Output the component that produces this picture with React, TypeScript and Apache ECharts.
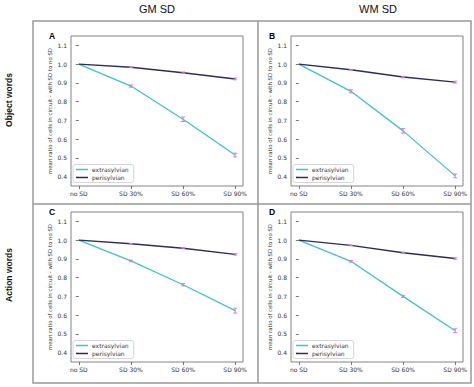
import React, { useEffect, useRef } from "react";
import * as echarts from "echarts";

const categories = ["no SD", "SD 30%", "SD 60%", "SD 90%"];
const yTicks = [0.4, 0.5, 0.6, 0.7, 0.8, 0.9, 1.0, 1.1];

// Panel A: GM SD, Object words
const aExtra = [1.0, 0.883, 0.706, 0.515];
const aExtraErr = [0, 0.006, 0.012, 0.01];
const aPeri = [1.0, 0.983, 0.954, 0.921];
const aPeriErr = [0, 0.002, 0.004, 0.005];
// Panel B: WM SD, Object words
const bExtra = [1.0, 0.855, 0.644, 0.404];
const bExtraErr = [0, 0.008, 0.012, 0.01];
const bPeri = [1.0, 0.97, 0.931, 0.904];
const bPeriErr = [0, 0.002, 0.004, 0.005];
// Panel C: GM SD, Action words
const cExtra = [1.0, 0.889, 0.762, 0.624];
const cExtraErr = [0, 0.004, 0.006, 0.013];
const cPeri = [1.0, 0.981, 0.957, 0.924];
const cPeriErr = [0, 0.002, 0.003, 0.004];
// Panel D: WM SD, Action words
const dExtra = [1.0, 0.887, 0.70, 0.517];
const dExtraErr = [0, 0.004, 0.006, 0.01];
const dPeri = [1.0, 0.972, 0.933, 0.902];
const dPeriErr = [0, 0.002, 0.003, 0.004];

const panels = [
  { letter: "A", extra: aExtra, extraErr: aExtraErr, peri: aPeri, periErr: aPeriErr, left: 71, top: 36 },
  { letter: "B", extra: bExtra, extraErr: bExtraErr, peri: bPeri, periErr: bPeriErr, left: 291, top: 36 },
  { letter: "C", extra: cExtra, extraErr: cExtraErr, peri: cPeri, periErr: cPeriErr, left: 71, top: 212 },
  { letter: "D", extra: dExtra, extraErr: dExtraErr, peri: dPeri, periErr: dPeriErr, left: 291, top: 212 },
];

const EXTRA_COLOR = "#3fc1d4";
const PERI_COLOR = "#2d2b5f";
const ERR_COLOR = "#dd77dd";
const PLOT_FONT = "DejaVu Sans";
const FIG_FONT = "Liberation Sans";

const GRID_W = 172;
const GRID_H = 150;

export default function App() {
  const ref = useRef<HTMLDivElement>(null);
  useEffect(() => {
    if (!ref.current) return;
    const chart = echarts.init(ref.current, null, { renderer: "svg" });

    const grid: any[] = [];
    const xAxis: any[] = [];
    const yAxis: any[] = [];
    const series: any[] = [];
    const legend: any[] = [];
    const graphic: any[] = [];

    const errRender = (params: any, api: any) => {
      const x = api.value(0);
      const lo = api.value(1);
      const hi = api.value(2);
      if (hi - lo <= 0) return null;
      const p1 = api.coord([x, hi]);
      const p2 = api.coord([x, lo]);
      const w = 2;
      const style = { stroke: ERR_COLOR, lineWidth: 1 };
      return {
        type: "group",
        children: [
          { type: "line", shape: { x1: p1[0], y1: p1[1], x2: p2[0], y2: p2[1] }, style },
          { type: "line", shape: { x1: p1[0] - w, y1: p1[1], x2: p1[0] + w, y2: p1[1] }, style },
          { type: "line", shape: { x1: p2[0] - w, y1: p2[1], x2: p2[0] + w, y2: p2[1] }, style },
        ],
      };
    };

    panels.forEach((p, i) => {
      grid.push({
        left: p.left,
        top: p.top,
        width: GRID_W,
        height: GRID_H,
        show: true,
        borderColor: "#777",
        borderWidth: 0.9,
        backgroundColor: "transparent",
      });
      xAxis.push({
        type: "value",
        gridIndex: i,
        min: -0.15,
        max: 3.15,
        axisLine: { show: false },
        splitLine: { show: false },
        axisTick: { show: true, length: 3, customValues: [0, 1, 2, 3], lineStyle: { color: "#555", width: 0.8 } },
        axisLabel: {
          customValues: [0, 1, 2, 3],
          formatter: (v: number) => categories[Math.round(v)],
          fontSize: 6,
          fontFamily: PLOT_FONT,
          color: "#333",
          margin: 4,
        },
      });
      yAxis.push({
        type: "value",
        gridIndex: i,
        min: 0.35,
        max: 1.15,
        axisLine: { show: false },
        splitLine: { show: false },
        axisTick: { show: true, length: 3, customValues: yTicks, lineStyle: { color: "#555", width: 0.8 } },
        axisLabel: {
          customValues: yTicks,
          formatter: (v: number) => v.toFixed(1),
          fontSize: 6,
          fontFamily: PLOT_FONT,
          color: "#333",
          margin: 4,
        },
        name: "mean ratio of cells in circuit - with SD to no SD",
        nameLocation: "middle",
        nameGap: 19,
        nameTextStyle: { fontSize: 5.4, fontFamily: PLOT_FONT, color: "#333" },
      });
      series.push({
        type: "line",
        name: "extrasylvian",
        xAxisIndex: i,
        yAxisIndex: i,
        data: p.extra.map((v, k) => [k, v]),
        showSymbol: false,
        symbol: "none",
        lineStyle: { color: EXTRA_COLOR, width: 1.3 },
        itemStyle: { color: EXTRA_COLOR },
        z: 2,
      });
      series.push({
        type: "line",
        name: "perisylvian",
        xAxisIndex: i,
        yAxisIndex: i,
        data: p.peri.map((v, k) => [k, v]),
        showSymbol: false,
        symbol: "none",
        lineStyle: { color: PERI_COLOR, width: 1.5 },
        itemStyle: { color: PERI_COLOR },
        z: 3,
      });
      series.push({
        type: "custom",
        name: "err-extra-" + i,
        xAxisIndex: i,
        yAxisIndex: i,
        renderItem: errRender,
        encode: { x: 0, y: [1, 2] },
        data: p.extra.map((v, k) => [k, v - p.extraErr[k], v + p.extraErr[k]]),
        z: 4,
      });
      series.push({
        type: "custom",
        name: "err-peri-" + i,
        xAxisIndex: i,
        yAxisIndex: i,
        renderItem: errRender,
        encode: { x: 0, y: [1, 2] },
        data: p.peri.map((v, k) => [k, v - p.periErr[k], v + p.periErr[k]]),
        z: 4,
      });
      legend.push({
        data: ["extrasylvian", "perisylvian"],
        orient: "vertical",
        left: p.left + 2,
        top: p.top + GRID_H - 21.5,
        borderColor: "#ccc",
        borderWidth: 0.8,
        borderRadius: 2,
        padding: [2, 5, 2, 3],
        itemGap: 2,
        itemWidth: 12,
        itemHeight: 1.5,
        icon: "rect",
        backgroundColor: "rgba(255,255,255,0.8)",
        textStyle: { fontSize: 6, fontFamily: PLOT_FONT, color: "#333", padding: [0, 0, 0, -1] },
        selectedMode: false,
      });
      graphic.push({
        type: "text",
        left: p.left - 22,
        top: p.top - 5,
        style: { text: p.letter, fontSize: 8.5, fontWeight: "bold", fontFamily: FIG_FONT, fill: "#000" },
      });
    });

    // outer frame with dividers
    graphic.push(
      { type: "rect", shape: { x: 33, y: 21, width: 438, height: 362 }, style: { fill: "none", stroke: "#999", lineWidth: 1.5 }, z: -1 },
      { type: "line", shape: { x1: 258, y1: 21, x2: 258, y2: 383 }, style: { stroke: "#999", lineWidth: 1.5 }, z: -1 },
      { type: "line", shape: { x1: 33, y1: 204, x2: 471, y2: 204 }, style: { stroke: "#999", lineWidth: 1.5 }, z: -1 },
      { type: "text", x: 157, y: 9, style: { text: "GM SD", fontSize: 11, fontFamily: FIG_FONT, fill: "#111", textAlign: "center", textVerticalAlign: "middle" } },
      { type: "text", x: 378, y: 9, style: { text: "WM SD", fontSize: 11, fontFamily: FIG_FONT, fill: "#111", textAlign: "center", textVerticalAlign: "middle" } },
      { type: "text", x: 9, y: 100, rotation: Math.PI / 2, style: { text: "Object words", fontSize: 8.5, fontWeight: "bold", fontFamily: FIG_FONT, fill: "#111", textAlign: "center", textVerticalAlign: "middle" } },
      { type: "text", x: 9, y: 275, rotation: Math.PI / 2, style: { text: "Action words", fontSize: 8.5, fontWeight: "bold", fontFamily: FIG_FONT, fill: "#111", textAlign: "center", textVerticalAlign: "middle" } }
    );

    chart.setOption({
      animation: false,
      backgroundColor: "#fff",
      grid,
      xAxis,
      yAxis,
      series,
      legend,
      graphic,
    });
    return () => chart.dispose();
  }, []);
  return <div ref={ref} style={{ position: "fixed", left: 0, top: 0, width: 474, height: 387 }} />;
}
